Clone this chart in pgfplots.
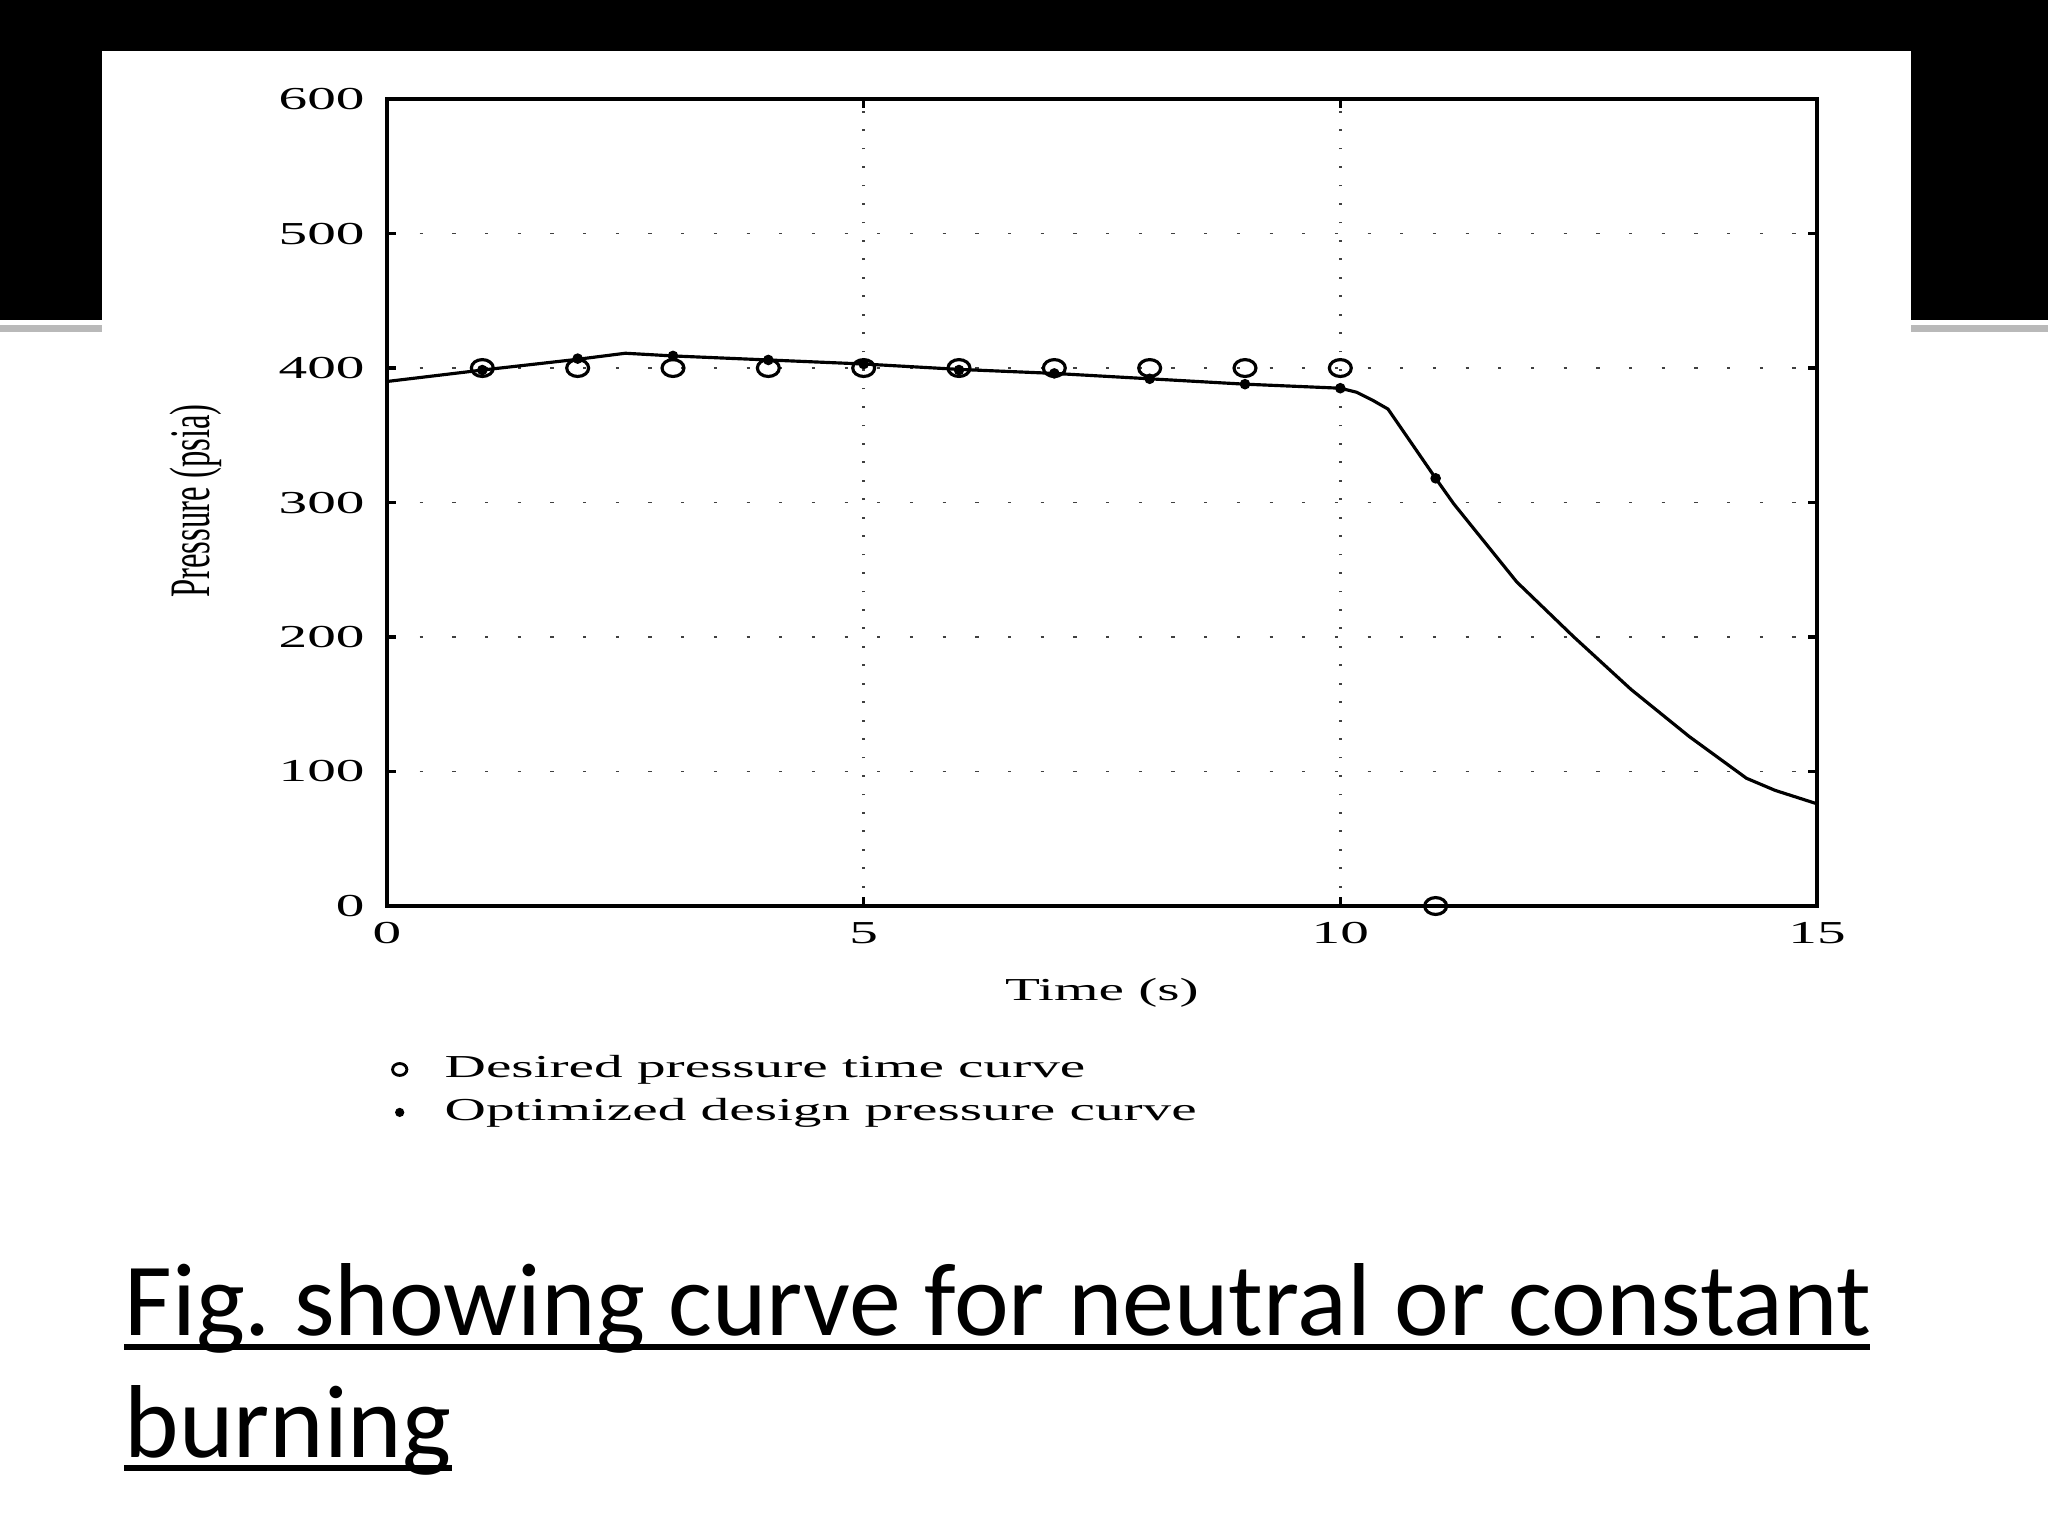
\documentclass[border=0pt]{standalone}
\usepackage{pgfplots}
\pgfplotsset{compat=1.18}
\usepackage{fontspec}
\newfontfamily\chartfont[FakeStretch=1.79]{Liberation Serif}
\newfontfamily\plainserif{Liberation Serif}
\newfontfamily\titlefont{Carlito}
\newcommand{\cf}{\chartfont\fontsize{9.1}{11}\selectfont}
\begin{document}
\begin{tikzpicture}[x=0.1mm,y=0.1mm]
\path[use as bounding box, fill=white] (0,0) rectangle (2048,1536);
\fill[black] (0,1536) rectangle (2048,1216);
\fill[white] (102,1485) rectangle (1911,1100);
\draw[gray!55, line width=0.7mm] (0,1207) -- (102,1207);
\draw[gray!55, line width=0.7mm] (1911,1207) -- (2048,1207);
\begin{axis}[at={(38.7mm,63mm)}, anchor=south west, scale only axis,
  width=143mm, height=80.7mm,
  xmin=0, xmax=15, ymin=0, ymax=600,
  xtick={0,5,10,15}, ytick={0,100,...,600},
  tick align=inside, major tick length=2.6pt,
  tick style={black, line width=0.9pt},
  axis line style={line width=1pt},
  grid=major,
  x grid style={black!75, line width=0.9pt, dash pattern=on 0.5pt off 4.75pt},
  y grid style={black!75, line width=0.5pt, dash pattern=on 0.9pt off 8.4pt},
  tick label style={font=\cf}, /pgf/number format/assume math mode=true,
  yticklabel style={xshift=-1.0mm},
  xticklabel style={yshift=-0.4mm},
  xlabel={Time (s)},
  xlabel style={font=\cf, at={(axis description cs:0.5,0)}, anchor=base, yshift=-9.4mm},
  ylabel={\scalebox{1}[1.75]{Pressure (psia)}},
  ylabel style={font=\plainserif\fontsize{9.3}{11}\selectfont, at={(axis description cs:-0.1336,0.502)}, anchor=center},
  clip=false,
  legend style={font=\cf, draw=none, fill=none, inner sep=0pt,
    at={(axis description cs:0,0)}, anchor=north west, xshift=0.2mm, yshift=-14.2mm,
    row sep=0.4pt},
  legend cell align=left,
  legend image code/.code={\path[draw=none, fill=none] (0,0) -- (0.48cm,0); \draw[#1] plot[only marks] coordinates {(0.10cm,0cm)};},
]
\addplot[black, line width=0.9pt, forget plot] coordinates {
(0,390) (1,398.5) (2,406.5) (2.5,411) (3,409) (4,406) (5,403) (6,399) (7,396) (8,392) (9,388) (9.5,386.5) (10,385) (10.17,382) (10.34,376) (10.5,369.5) (11,318) (11.19,299) (11.85,241) (12.45,200) (13.05,161) (13.66,126) (14.26,95) (14.56,86) (15,76)};
\addplot[only marks, mark=o, mark size=2.4pt, mark options={xscale=1.3, line width=0.9pt, black}, forget plot] coordinates {
(1,400) (2,400) (3,400) (4,400) (5,400) (6,400) (7,400) (8,400) (9,400) (10,400) (11,0)};
\addplot[only marks, mark=*, mark size=1.3pt, mark options={black}, forget plot] coordinates {
(1,398.5) (2,407) (3,409) (4,406) (5,403) (6,398.5) (7,396) (8,392) (9,388) (10,385) (11,318)};
\addlegendimage{only marks, mark=o, mark size=1.7pt, mark options={xscale=1.2, line width=0.8pt, black}}
\addlegendentry{Desired pressure time curve}
\addlegendimage{only marks, mark=*, mark size=1.1pt, mark options={black}}
\addlegendentry{Optimized design pressure curve}
\end{axis}
\node[anchor=base west, inner sep=0, font=\titlefont\fontsize{29.5}{35}\selectfont] at (124,201) {Fig.\ showing curve for neutral or constant};
\draw[line width=0.6mm] (124,189) -- (1870,189);
\node[anchor=base west, inner sep=0, font=\titlefont\fontsize{29.5}{35}\selectfont] at (124,79) {burning};
\draw[line width=0.6mm] (124,68) -- (452,68);
\end{tikzpicture}
\end{document}
